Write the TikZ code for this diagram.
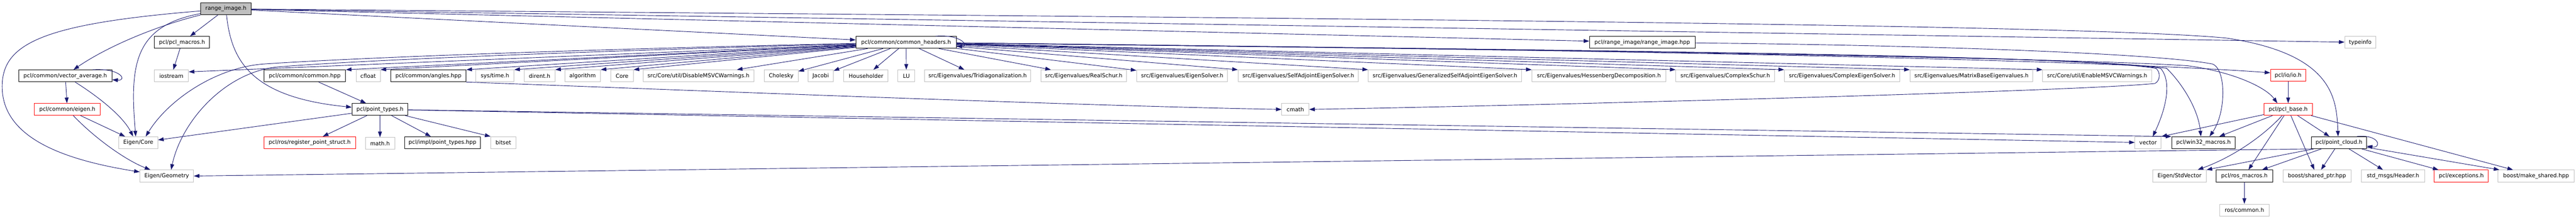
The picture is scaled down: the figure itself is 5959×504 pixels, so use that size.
\documentclass[tikz,border=0pt]{standalone}
\usepackage{fontspec}
\setmainfont{DejaVu Sans}
\usetikzlibrary{arrows.meta, positioning}

\definecolor{edgeblue}{HTML}{191970}
\definecolor{extgray}{HTML}{BFBFBF}

\begin{document}
\begin{tikzpicture}[
            x=1pt, y=-1pt,
            incfile/.style={rectangle, draw=black, line width=1.2pt, fill=white, minimum height=27.5pt, inner sep=0pt, font=\fontsize{12.7}{15}\selectfont},
            docfile/.style={incfile},
            extfile/.style={incfile, draw=extgray},
            cutfile/.style={incfile, draw=red},
            rootfile/.style={incfile, fill=extgray},
            dep/.style={draw=edgeblue, line width=1.1pt, -{Triangle[length=13pt, width=9pt]}}
        ]
        \useasboundingbox (0,0) rectangle (5959,504);

        % --- Row 0 ---
        \node[rootfile, minimum width=117.5pt] (range_img) at (522.6,20.5) {range\_image.h};

        % --- Row 1 ---
        \node[docfile, minimum width=128pt] (pcl_macros) at (421,98) {pcl/pcl\_macros.h};
        \node[docfile, minimum width=232pt] (common_hdrs) at (2096,98) {pcl/common/common\_headers.h};
        \node[docfile, minimum width=244pt] (range_hpp) at (3799,98) {pcl/range\_image/range\_image.hpp};
        \node[extfile, minimum width=72pt] (typeinfo) at (5460,98) {typeinfo};

        % --- Row 2 ---
        \node[docfile, minimum width=216pt] (vec_avg) at (151,175.5) {pcl/common/vector\_average.h};
        \node[extfile, minimum width=79pt] (iostream) at (396.5,175.5) {iostream};
        \node[docfile, minimum width=189pt] (common_hpp) at (705,175.5) {pcl/common/common.hpp};
        \node[extfile, minimum width=56pt] (cfloat) at (851.7,175.5) {cfloat};
        \node[docfile, minimum width=174.5pt] (angles_hpp) at (991,175.5) {pcl/common/angles.hpp};
        \node[extfile, minimum width=88pt] (sys_time) at (1145,175.5) {sys/time.h};
        \node[extfile, minimum width=71pt] (dirent) at (1248.3,175.5) {dirent.h};
        \node[extfile, minimum width=82.7pt] (algorithm) at (1347.6,175.5) {algorithm};
        \node[extfile, minimum width=52pt] (core) at (1439,175.5) {Core};
        \node[extfile, minimum width=256pt] (disable_msvc) at (1615.7,175.5) {src/Core/util/DisableMSVCWarnings.h};
        \node[extfile, minimum width=78.5pt] (cholesky) at (1807,175.5) {Cholesky};
        \node[extfile, minimum width=58.5pt] (jacobi) at (1898.5,175.5) {Jacobi};
        \node[extfile, minimum width=102.6pt] (householder) at (2003.3,175.5) {Householder};
        \node[extfile, minimum width=39pt] (lu) at (2096.6,175.5) {LU};
        \node[extfile, minimum width=245.4pt] (tridiag) at (2261.4,175.5) {src/Eigenvalues/Tridiagonalization.h};
        \node[extfile, minimum width=198.6pt] (real_schur) at (2507.1,175.5) {src/Eigenvalues/RealSchur.h};
        \node[extfile, minimum width=210.5pt] (eigen_solver) at (2734.7,175.5) {src/Eigenvalues/EigenSolver.h};
        \node[extfile, minimum width=278.6pt] (self_adj) at (3003.3,175.5) {src/Eigenvalues/SelfAdjointEigenSolver.h};
        \node[extfile, minimum width=354.8pt] (gen_self_adj) at (3342.6,175.5) {src/Eigenvalues/GeneralizedSelfAdjointEigenSolver.h};
        \node[extfile, minimum width=309.6pt] (hessenberg) at (3698.6,175.5) {src/Eigenvalues/HessenbergDecomposition.h};
        \node[extfile, minimum width=228.5pt] (complex_schur) at (3991,175.5) {src/Eigenvalues/ComplexSchur.h};
        \node[extfile, minimum width=266.8pt] (complex_eig) at (4261.2,175.5) {src/Eigenvalues/ComplexEigenSolver.h};
        \node[extfile, minimum width=284.3pt] (matrix_base) at (4560.5,175.5) {src/Eigenvalues/MatrixBaseEigenvalues.h};
        \node[extfile, minimum width=251.8pt] (enable_msvc) at (4851.2,175.5) {src/Core/util/EnableMSVCWarnings.h};

        % --- Row 3 ---
        \node[cutfile, minimum width=152pt] (eigen_h) at (155.8,253) {pcl/common/eigen.h};
        \node[docfile, minimum width=129.4pt] (point_types) at (879,253) {pcl/point\_types.h};
        \node[extfile, minimum width=62.7pt] (cmath) at (2996.5,253) {cmath};
        \node[cutfile, minimum width=112pt] (pcl_base) at (5293.1,253) {pcl/pcl\_base.h};
        \node[cutfile, minimum width=81.5pt, above=50pt of pcl_base] (io_h) {pcl/io/io.h};

        % --- Row 4 ---
        \node[extfile, minimum width=90pt] (eigen_core) at (320,330) {Eigen/Core};
        \node[cutfile, minimum width=212pt] (reg_point) at (716.5,330) {pcl/ros/register\_point\_struct.h};
        \node[extfile, minimum width=68pt, below=50pt of point_types] (math_h) {math.h};
        \node[docfile, minimum width=175.6pt] (impl_types) at (1023.6,330) {pcl/impl/point\_types.hpp};
        \node[extfile, minimum width=58pt] (bitset) at (1164.3,330) {bitset};
        \node[extfile, minimum width=60.5pt] (vector) at (4969,330) {vector};
        \node[docfile, minimum width=147.3pt] (win32) at (5097.2,330) {pcl/win32\_macros.h};
        \node[docfile, minimum width=127.4pt] (point_cloud) at (5410.6,330) {pcl/point\_cloud.h};

        % --- Row 5 ---
        \node[extfile, minimum width=124pt] (eigen_geom) at (385.8,407) {Eigen/Geometry};
        \node[extfile, minimum width=124pt] (std_vector) at (5041.8,407) {Eigen/StdVector};
        \node[docfile, minimum width=130.9pt] (ros_macros) at (5191.8,407) {pcl/ros\_macros.h};
        \node[extfile, minimum width=157.7pt] (shared_ptr) at (5359.8,407) {boost/shared\_ptr.hpp};
        \node[extfile, minimum width=146.3pt] (header) at (5535.7,407) {std\_msgs/Header.h};
        \node[cutfile, minimum width=125.2pt] (exceptions) at (5693.6,407) {pcl/exceptions.h};
        \node[extfile, minimum width=177pt] (make_shared) at (5866.6,407) {boost/make\_shared.hpp};

        % --- Row 6 ---
        \node[extfile, minimum width=114.8pt, below=50pt of ros_macros] (ros_common) {ros/common.h};

        % --- range_image.h ---
        \draw[dep] (range_img) -- (pcl_macros);
        \draw[dep] (range_img) .. controls (380,55) and (260,100) .. ([xshift=19pt]vec_avg.north);
        \draw[dep] (range_img) .. controls (310,60) and (300,150) .. ([xshift=-6pt]eigen_core.north);
        \draw[dep] (range_img) .. controls (100,55) and (5,100) .. (5,200) .. controls (5,320) and (150,370) .. ([yshift=-5pt]eigen_geom.north west);
        \draw[dep] (range_img) .. controls (535,140) and (580,225) .. ([yshift=5pt]point_types.west);
        \draw[dep] (range_img) -- (common_hdrs);
        \draw[dep] (range_img) -- (range_hpp);
        \draw[dep] (range_img) -- (typeinfo);
        \draw[dep] (range_img) .. controls (3000,42) and (4800,55) .. (5150,88) .. controls (5400,125) and (5405,230) .. ([xshift=-2pt]point_cloud.north);

        % --- pcl_macros.h, vector_average.h, eigen.h ---
        \draw[dep] (pcl_macros) -- (iostream);
        \draw[dep] ([xshift=-45pt]vec_avg.north east) .. controls (280,157) and (295,187) .. ([yshift=-9pt]vec_avg.east);
        \draw[dep] (vec_avg) -- (eigen_h);
        \draw[dep] (vec_avg) .. controls (230,225) and (285,270) .. ([xshift=-12pt]eigen_core.north);
        \draw[dep] (eigen_h) -- (eigen_core);
        \draw[dep] (eigen_h) .. controls (220,320) and (290,370) .. ([xshift=-38pt]eigen_geom.north);

        % --- common_headers.h, to the left ---
        \draw[dep] (common_hdrs) -- ([yshift=-5pt]iostream.north east);
        \draw[dep] (common_hdrs) .. controls (1300,115) and (800,135) .. (610,148) .. controls (500,156) and (390,230) .. ([xshift=17pt]eigen_core.north);
        \draw[dep] (common_hdrs) .. controls (1300,120) and (820,140) .. (640,155) .. controls (520,168) and (420,280) .. ([xshift=10pt]eigen_geom.north);
        \draw[dep] (common_hdrs) -- (common_hpp.north east);
        \draw[dep] (common_hdrs) -- (cfloat.north east);
        \draw[dep] (common_hdrs) -- (angles_hpp.north east);
        \draw[dep] (common_hdrs) -- (sys_time.north east);
        \draw[dep] (common_hdrs) -- (dirent.north east);
        \draw[dep] (common_hdrs) -- (algorithm.north east);
        \draw[dep] (common_hdrs) -- (core.north east);
        \draw[dep] (common_hdrs) -- (disable_msvc);
        \draw[dep] (common_hdrs) -- (cholesky);
        \draw[dep] (common_hdrs) -- (jacobi);
        \draw[dep] (common_hdrs) -- (householder);
        \draw[dep] (common_hdrs) -- (lu);

        % --- common_headers.h, to the right ---
        \draw[dep] ([xshift=-48pt]common_hdrs.north east) .. controls (2225,79) and (2243,108) .. ([yshift=-9pt]common_hdrs.east);
        \draw[dep] (common_hdrs) -- (tridiag);
        \draw[dep] (common_hdrs) -- (real_schur);
        \draw[dep] (common_hdrs) -- (eigen_solver);
        \draw[dep] (common_hdrs) -- (self_adj.north west);
        \draw[dep] (common_hdrs) -- (gen_self_adj.north west);
        \draw[dep] (common_hdrs) -- (hessenberg.north west);
        \draw[dep] (common_hdrs) -- (complex_schur.north west);
        \draw[dep] (common_hdrs) -- (complex_eig.north west);
        \draw[dep] (common_hdrs) -- (matrix_base.north west);
        \draw[dep] (common_hdrs) -- (enable_msvc.north west);
        \draw[dep] (common_hdrs) .. controls (3800,118) and (4800,128) .. (4987,158) .. controls (4998,166) and (4998,186) .. (4985,193) .. controls (4800,212) and (3500,245) .. (cmath.east);
        \draw[dep] (common_hdrs) .. controls (3800,118) and (4800,128) .. (4998,158) .. controls (5018,180) and (5020,230) .. ([xshift=11pt]vector.north);
        \draw[dep] (common_hdrs) .. controls (3800,118) and (4800,128) .. (5012,158) .. controls (5045,190) and (5085,250) .. ([xshift=-6pt]win32.north);
        \draw[dep] (common_hdrs) .. controls (3800,118) and (4800,135) .. (5060,152) .. controls (5160,165) and (5240,200) .. ([xshift=-25pt]pcl_base.north);
        \draw[dep] (common_hdrs) .. controls (3500,112) and (4800,135) .. ([yshift=6pt]io_h.west);

        % --- common.hpp, angles.hpp, range_image.hpp ---
        \draw[dep] (common_hpp) -- (point_types);
        \draw[dep] (angles_hpp.south east) .. controls (1500,205) and (2500,245) .. (cmath.west);
        \draw[dep] (range_hpp) .. controls (4500,105) and (5000,125) .. (5118,148) .. controls (5150,160) and (5150,260) .. ([xshift=14pt]win32.north);

        % --- point_types.h ---
        \draw[dep] (point_types) -- (eigen_core);
        \draw[dep] (point_types) -- (reg_point);
        \draw[dep] (point_types) -- (math_h);
        \draw[dep] (point_types) -- (impl_types);
        \draw[dep] (point_types) -- (bitset.north west);
        \draw[dep] (point_types) -- (vector);
        \draw[dep] (point_types) -- (win32.north west);

        % --- io.h, pcl_base.h ---
        \draw[dep] (io_h) -- (pcl_base);
        \draw[dep] (pcl_base) -- (vector.north east);
        \draw[dep] (pcl_base) -- (win32);
        \draw[dep] (pcl_base) -- (point_cloud);
        \draw[dep] ([xshift=-14pt]pcl_base.south) .. controls (5230,320) and (5160,365) .. ([xshift=42pt]std_vector.north);
        \draw[dep] (pcl_base) -- (ros_macros);
        \draw[dep] (pcl_base) -- (shared_ptr);
        \draw[dep] (pcl_base) -- (make_shared);

        % --- point_cloud.h ---
        \draw[dep] ([xshift=-23pt]point_cloud.north east) .. controls (5505,310) and (5510,343) .. ([yshift=-8pt]point_cloud.east);
        \draw[dep] (point_cloud.south west) -- (eigen_geom.east);
        \draw[dep] ([xshift=6pt]point_cloud.south west) -- (std_vector.north east);
        \draw[dep] (point_cloud) -- (ros_macros);
        \draw[dep] (point_cloud) -- (shared_ptr);
        \draw[dep] (point_cloud) -- (header);
        \draw[dep] (point_cloud) -- (exceptions);
        \draw[dep] (point_cloud) -- (make_shared);
        \draw[dep] (ros_macros) -- (ros_common);

\end{tikzpicture}
\end{document}
